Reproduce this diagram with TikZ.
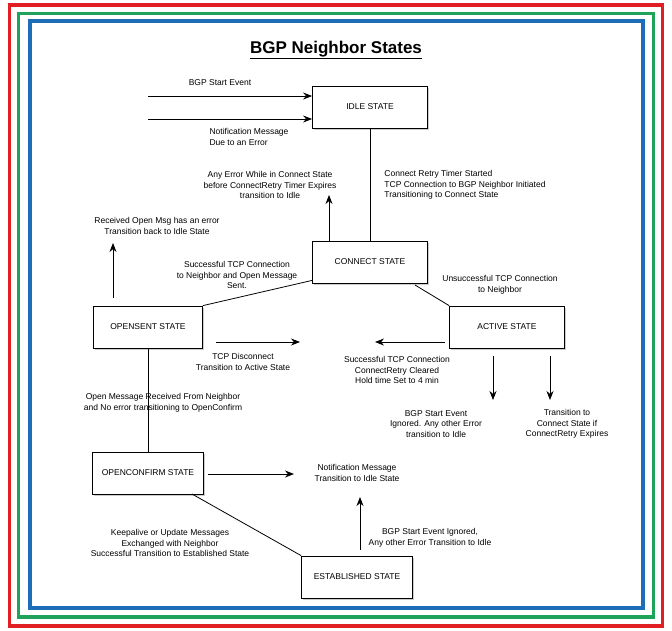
\documentclass[tikz,border=0pt]{standalone}
\usepackage{fontspec}
\setmainfont{Liberation Sans}
\usetikzlibrary{arrows.meta,shadows}

\definecolor{frameRed}{HTML}{E01E24}
\definecolor{frameGreen}{HTML}{1FA35A}
\definecolor{frameBlue}{HTML}{1E6DB8}

\tikzset{
  state/.style={draw=black,thick,fill=white,minimum width=115pt,minimum height=42pt,
    font=\fontsize{8.5}{10}\selectfont,drop shadow={shadow xshift=1.5pt,shadow yshift=-1.5pt,opacity=0.4}},
  lbl/.style={font=\fontsize{8.5}{10.5}\selectfont,align=center,inner sep=0pt},
  arr/.style={-{Stealth[length=9pt,width=7pt]},thick},
  frame/.style={line width=3.5pt}
}

\begin{document}
\begin{tikzpicture}[x=1pt,y=-1pt]
\useasboundingbox (0,0) rectangle (672,630);
\fill[white] (0,0) rectangle (672,630);
\draw[frame,frameRed] (9.5,5) rectangle (662.5,626);
\draw[frame,frameGreen] (18.5,13.5) rectangle (653.5,617);
\draw[frame,frameBlue] (30,21) rectangle (643,608);
\node[font=\bfseries\fontsize{17}{20}\selectfont] (title) at (336,50) {\underline{BGP Neighbor States}};

\node[state] (idle) at (370,107) {IDLE STATE};
\node[state] (connect) at (370,262) {CONNECT STATE};
\node[state] (active) at (507,327) {ACTIVE STATE};
\node[state,minimum width=109pt] (opensent) at (148,327) {OPENSENT STATE};
\node[state,minimum width=111pt] (openconfirm) at (148,473) {OPENCONFIRM STATE};
\node[state,minimum width=111pt] (established) at (357,577) {ESTABLISHED STATE};

% inputs to idle
\coordinate (startA) at (148,96);
\coordinate (startB) at (148,119);
\draw[arr] (startA) -- (idle.west |- startA);
\draw[arr] (startB) -- (idle.west |- startB);
\node[lbl] (lStart) at (220,83) {BGP Start Event};
\node[lbl,align=left] (lNotif) at (249,137) {Notification Message\\Due to an Error};

% idle -- connect
\draw[thick] (idle) -- (connect);
\node[lbl,align=left] (lRetry) at (465,185) {Connect Retry Timer Started\\TCP Connection to BGP Neighbor Initiated\\Transitioning to Connect State};
\coordinate (cUp) at (329,195);
\draw[arr] (connect.north -| cUp) -- (cUp);
\node[lbl] (lAnyErr) at (270,185) {Any Error While in Connect State\\before ConnectRetry Timer Expires\\transition to Idle};

% connect -- opensent / active
\draw[thick] (connect.south west) ++(0,-3) -- (opensent.north east);
\node[lbl] (lSuccess) at (237,275) {Successful TCP Connection\\to Neighbor and Open Message\\Sent.};
\draw[thick] (415,285) -- (active.north west) ++(13,0);
\node[lbl] (lUnsucc) at (500,285) {Unsuccessful TCP Connection\\to Neighbor};

% opensent
\coordinate (osUp) at (113,243);
\draw[arr] (113,298) -- (osUp);
\node[lbl] (lOpenErr) at (157,226) {Received Open Msg has an error\\Transition back to Idle State};
\coordinate (osRight) at (300,342);
\draw[arr] (216,342) -- (osRight);
\node[lbl] (lDisc) at (243,362) {TCP Disconnect\\Transition to Active State};
\draw[thick] (opensent) -- (openconfirm);
\node[lbl] (lOpenRecv) at (163,403) {Open Message Received From Neighbor\\and No error transitioning to OpenConfirm};

% active
\coordinate (acLeft) at (375,342);
\draw[arr] (active.west |- acLeft) ++(-4,0) -- (acLeft);
\node[lbl] (lActSucc) at (397,370) {Successful TCP Connection\\ConnectRetry Cleared\\Hold time Set to 4 min};
\coordinate (acDownA) at (493,400);
\coordinate (acDownB) at (550,400);
\draw[arr] (493,356) -- (acDownA);
\draw[arr] (550,356) -- (acDownB);
\node[lbl] (lIgnored) at (436,424) {BGP Start Event\\Ignored. Any other Error\\transition to Idle};
\node[lbl] (lExpire) at (567,424) {Transition to\\Connect State if\\ConnectRetry Expires};

% openconfirm / established
\coordinate (ocRight) at (294,474);
\draw[arr] (208,474) -- (ocRight);
\node[lbl] (lNotifIdle) at (357,473) {Notification Message\\Transition to Idle State};
\draw[thick] (192,494) -- (established.north west) ++(13,0);
\coordinate (esUp) at (360,497);
\draw[arr] (established.north -| esUp) ++(0,-6) -- (esUp);
\node[lbl] (lEstIgn) at (430,538) {BGP Start Event Ignored,\\Any other Error Transition to Idle};
\node[lbl] (lKeep) at (170,543) {Keepalive or Update Messages\\Exchanged with Neighbor\\Successful Transition to Established State};
\end{tikzpicture}
\end{document}
